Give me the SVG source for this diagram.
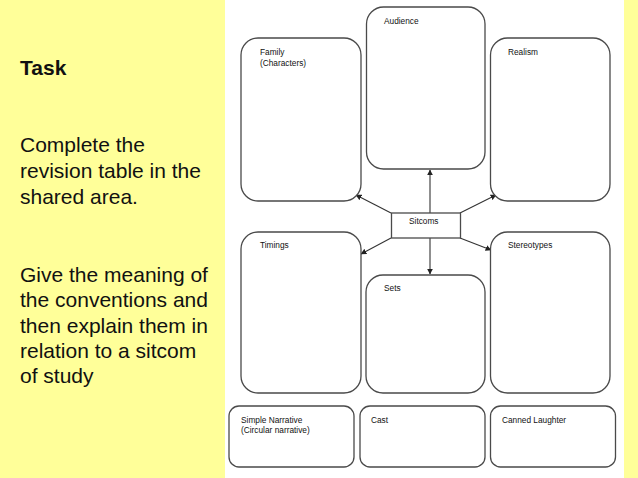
<svg xmlns="http://www.w3.org/2000/svg" width="638" height="478" viewBox="0 0 638 478">
<defs>
<style>
.box{fill:#fff;stroke:#4a4a4a;stroke-width:1.3}
.lbl{font-family:"Liberation Sans",Arial,sans-serif;font-size:8.3px;fill:#111}
.side{font-family:"Liberation Sans",Arial,sans-serif;font-size:21px;fill:#111}
.conn{stroke:#333;stroke-width:1.1;fill:none;marker-end:url(#ah)}
</style>
<marker id="ah" viewBox="0 0 10 10" refX="9" refY="5" markerWidth="6" markerHeight="6" orient="auto" markerUnits="userSpaceOnUse">
<path d="M0,0 L10,5 L0,10 z" fill="#222"/>
</marker>
</defs>
<rect x="0" y="0" width="638" height="478" fill="#ffff99"/>
<rect x="225" y="0" width="399" height="478" fill="#fff"/>
<g id="task">
<text class="side" x="20" y="75" font-weight="bold" font-size="20">Task</text>
<text class="side" x="20" y="152">Complete the</text>
<text class="side" x="20" y="178">revision table in the</text>
<text class="side" x="20" y="204">shared area.</text>
<text class="side" x="20" y="282">Give the meaning of</text>
<text class="side" x="20" y="307">the conventions and</text>
<text class="side" x="20" y="333">then explain them in</text>
<text class="side" x="20" y="358">relation to a sitcom</text>
<text class="side" x="20" y="383">of study</text>
</g>
<g id="connectors">
<line class="conn" x1="430" y1="213" x2="430" y2="170"/>
<line class="conn" x1="391" y1="213" x2="356" y2="195"/>
<line class="conn" x1="460" y1="213" x2="496" y2="195"/>
<line class="conn" x1="391" y1="238" x2="361" y2="254"/>
<line class="conn" x1="430" y1="238" x2="430" y2="274"/>
<line class="conn" x1="460" y1="238" x2="491" y2="250"/>
</g>
<g id="audience"><rect class="box" x="366.5" y="7" width="118.5" height="162" rx="17"/><text class="lbl" x="384" y="24">Audience</text></g>
<g id="family"><rect class="box" x="241" y="38" width="120" height="163" rx="17"/><text class="lbl" x="260" y="55">Family</text><text class="lbl" x="260" y="66">(Characters)</text></g>
<g id="realism"><rect class="box" x="490.5" y="38" width="119.5" height="163" rx="17"/><text class="lbl" x="508" y="55">Realism</text></g>
<g id="sitcoms"><rect class="box" x="391.5" y="213" width="69" height="25"/><text class="lbl" x="409" y="224">Sitcoms</text></g>
<g id="timings"><rect class="box" x="241" y="232" width="120" height="161" rx="17"/><text class="lbl" x="260" y="248">Timings</text></g>
<g id="sets"><rect class="box" x="366" y="275" width="119" height="118" rx="17"/><text class="lbl" x="384" y="291">Sets</text></g>
<g id="stereotypes"><rect class="box" x="490.5" y="232" width="119.5" height="161" rx="17"/><text class="lbl" x="508" y="248">Stereotypes</text></g>
<g id="narrative"><rect class="box" x="229" y="406" width="125" height="61" rx="10"/><text class="lbl" x="241" y="423">Simple  Narrative</text><text class="lbl" x="241" y="433">(Circular narrative)</text></g>
<g id="cast"><rect class="box" x="360" y="406" width="125" height="61" rx="10"/><text class="lbl" x="371" y="423">Cast</text></g>
<g id="laughter"><rect class="box" x="490.5" y="406" width="125" height="61" rx="10"/><text class="lbl" x="502" y="423">Canned Laughter</text></g>
</svg>
